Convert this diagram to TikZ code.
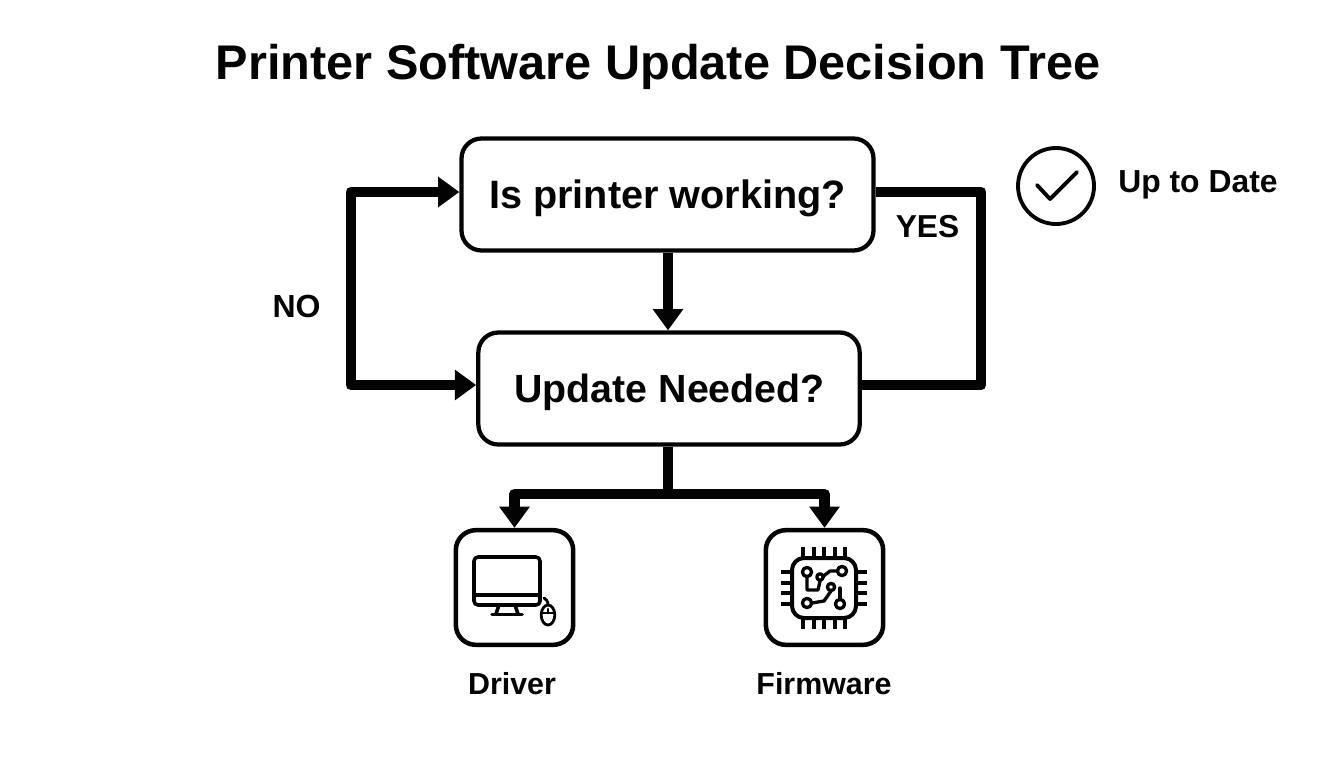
\documentclass[tikz,border=0pt]{standalone}
\usepackage{fontspec}
\setmainfont{Liberation Sans}
\usetikzlibrary{arrows.meta,calc}
\definecolor{ink}{HTML}{030303}
\newcommand{\fs}[1]{\fontsize{#1}{#1}\selectfont\bfseries}
\tikzset{
  dbox/.style={draw=ink,line width=3.2pt,rounded corners=15pt,align=center,inner sep=0pt,text=ink,text height=20.4pt,text depth=0pt},
  ibox/.style={draw=ink,line width=3.4pt,rounded corners=15pt,inner sep=0pt,minimum width=88pt,minimum height=86pt},
  conn/.style={draw=ink,line width=8.2pt,line join=round},
  tip/.style={-{Triangle[length=16pt,width=22pt]}},
  lbl/.style={text=ink,inner sep=0pt},
  icon/.style={draw=ink,line width=2.7pt,line cap=round,line join=round},
  thin/.style={draw=ink,line width=2.5pt,line cap=round,line join=round},
  mouseline/.style={draw=ink,line width=2.1pt,line cap=round,line join=round},
  pin/.style={draw=ink,line width=3pt}
}
\begin{document}
\begin{tikzpicture}[x=0.75pt,y=-0.75pt]
\useasboundingbox (0,0) rectangle (1344,768);
\node[lbl] (title) at (658,67) {\fs{36.5}Printer Software Update Decision Tree};
\node[dbox,minimum width=309pt,minimum height=84pt] (a) at (667.5,194.5) {\fs{29.7}Is printer working?};
\node[dbox,minimum width=286pt,minimum height=84pt] (b) at (669,388.5) {\fs{29.5}\hspace{1pt}Update Needed?};
\node[ibox] (drv) at (514.5,587.5) {};
\node[ibox] (fir) at (824.5,587.5) {};
\node[lbl] (ldrv) at (512,684) {\fs{22.8}Driver};
\node[lbl] (lfir) at (824,684) {\fs{22.8}Firmware};
\node[lbl] (lyes) at (927.5,227) {\fs{23.8}YES};
\node[lbl] (lno) at (296.5,306) {\fs{24}NO};
\node[lbl,anchor=west] (lup) at (1118,185) {\fs{23.9}Up to Date};
\node[draw=ink,line width=2.9pt,circle,minimum size=57pt,inner sep=0pt] (chk) at (1056,186) {};
\coordinate (t1) at (1037,185);
\coordinate (t2) at (1050,199);
\coordinate (t3) at (1077,172);
\draw[draw=ink,line width=2.9pt,line cap=round,line join=round] (t1) -- (t2) -- (t3);
% connectors
\coordinate (nt) at (351,192);
\coordinate (nb) at (351,385);
\coordinate (yt) at (981,192);
\coordinate (yb) at (981,385);
\coordinate (j) at (668,494);
\draw[conn,{Triangle[length=16pt,width=22pt]}-{Triangle[length=16pt,width=22pt]}] (a.west|-nt) -- (nt) -- (nb) -- (b.west|-nb);
\draw[conn] (a.east|-yt) -- (yt) -- (yb) -- (b.east|-yb);
\draw[conn,tip] (a.south-|j) -- (b.north-|j);
\draw[conn,tip] (b.south-|j) -- (j) -| (drv.north);
\draw[conn,tip] (b.south-|j) -- (j) -| (fir.north);
% driver icon
\draw[icon,rounded corners=3pt] (474,557) rectangle (540,605);
\draw[icon] (474,595) -- (540,595);
\draw[icon] (499,605) -- (496,614);
\draw[icon] (515,605) -- (518,614);
\draw[icon] (492,614.5) -- (522,614.5);
\draw[mouseline] (548,615) ellipse (6.8 and 10);
\draw[mouseline] (548,605) .. controls (548,601) and (546,599) .. (544,598);
\draw[mouseline] (542,613) -- (554,613);
\draw[mouseline] (548,609) -- (548,613);
% firmware icon
\draw[icon,line width=3pt,rounded corners=9pt] (792,558) rectangle (856,618);
\foreach \x in {803,813.5,824,834.5,845}{
  \draw[pin] (\x,547) -- (\x,558);
  \draw[pin] (\x,618) -- (\x,629);
}
\foreach \y in {572,582.5,593,604}{
  \draw[pin] (781,\y) -- (792,\y);
  \draw[pin] (856,\y) -- (867,\y);
}
\draw[thin] (807,572) circle (4.6);
\draw[thin] (820,577) circle (3.2);
\draw[thin] (842,571) circle (4.6);
\draw[thin] (831,587) circle (3.6);
\draw[thin] (807,603) circle (4.6);
\draw[thin] (840,604) circle (4.6);
\draw[thin] (807,577) -- (807,590) -- (818,590) -- (820,581);
\draw[thin] (823.5,576) -- (830,571) -- (837,571);
\draw[thin] (812,603) -- (824,601) -- (831,591);
\draw[thin] (840,599) -- (840,588);
\end{tikzpicture}
\end{document}
